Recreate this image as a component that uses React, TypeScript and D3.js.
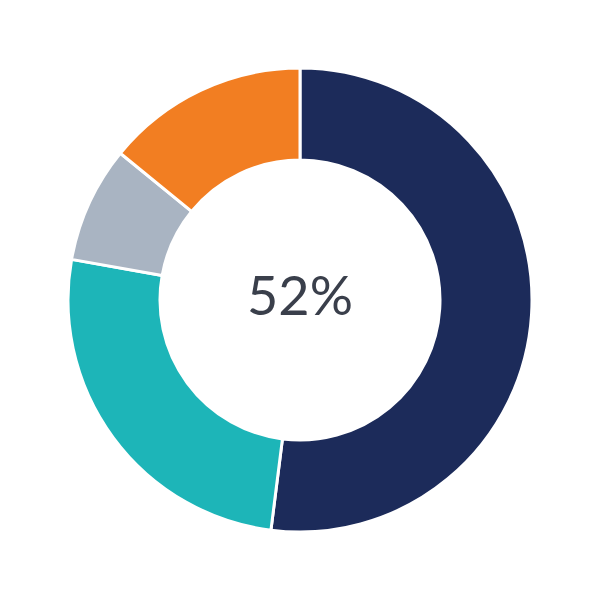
import React from 'react';
import * as d3 from 'd3';

const categories = ['Navy', 'Teal', 'Gray', 'Orange'];
const values = [52, 25.8, 8.1, 14.1];
const colors = ['#1c2b5a', '#1db5b8', '#a9b4c2', '#f27e22'];
const centerLabel = '52%';

const App: React.FC = () => {
  const width = 600;
  const height = 600;
  const outerRadius = 232;
  const innerRadius = 140;

  const pie = d3.pie<number>().value(d => d).sort(null);
  const arcs = pie(values);
  const arc = d3.arc<d3.PieArcDatum<number>>()
    .innerRadius(innerRadius)
    .outerRadius(outerRadius);

  return (
    <svg width={width} height={height} style={{ position: 'absolute', left: 0, top: 0 }}>
      <rect width={width} height={height} fill="#ffffff" />
      <g transform={`translate(${width / 2},${height / 2})`}>
        {arcs.map((a, i) => (
          <path
            key={categories[i]}
            d={arc(a) || ''}
            fill={colors[i]}
            stroke="#ffffff"
            strokeWidth={3}
          />
        ))}
        <text
          textAnchor="middle"
          y={-4}
          dy="0.35em"
          fontFamily="Lato, sans-serif"
          fontSize={54}
          fill="#3a3f4b"
        >
          {centerLabel}
        </text>
      </g>
    </svg>
  );
};

export default App;
